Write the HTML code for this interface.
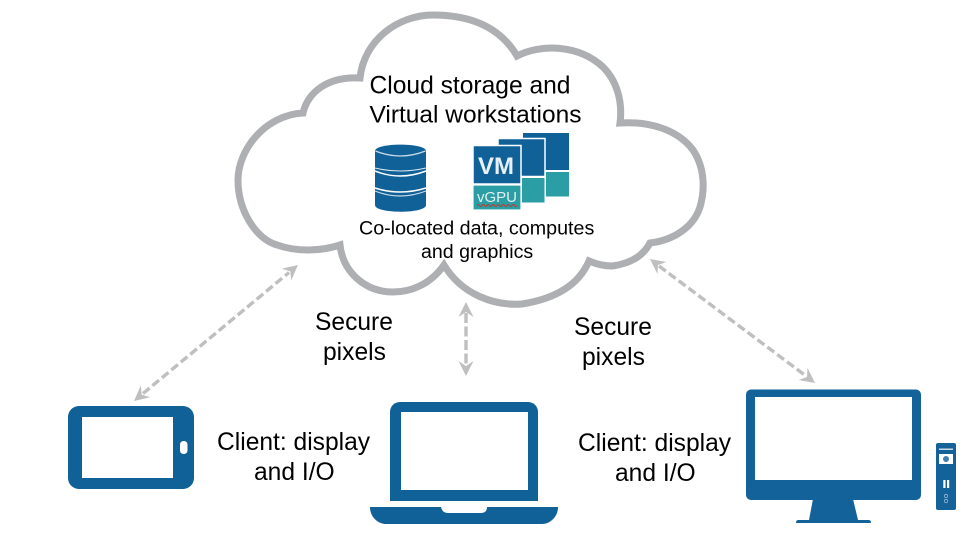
<!DOCTYPE html>
<html><head><meta charset="utf-8"><style>
html,body{margin:0;padding:0;background:#fff}
svg{display:block}
text{font-family:"Liberation Sans",sans-serif;fill:#000}
</style></head><body>
<svg width="975" height="536" viewBox="0 0 975 536" xmlns="http://www.w3.org/2000/svg">
<defs>
<path id="ah" d="M0,0 L-15,-7.5 L-10,0 L-15,7.5 Z" fill="#bfbfbf"/>
</defs>
<!-- cloud -->
<path d="M360,78 C364,40 398,15 433,15 C470,15 500,27 517,56 C540,44 578,44 603,67 C616,80 623,100 620,123 C650,121 678,130 693,150 C705,168 705,190 700,207 C694,226 675,240 650,243 C642,258 628,264 612,266 C603,266 596,264 589,261 C580,282 560,298 522,304 C495,306 462,295 444,265 C430,285 410,292 393,292 C365,292 343,272 340,245 C325,250 300,253 277,245 C255,238 238,210 238,180 C238,150 265,115 303,113 C308,92 328,76 360,78 Z" fill="#fff" stroke="#aeafb2" stroke-width="7" stroke-linejoin="miter"/>
<!-- cloud text -->
<text x="369.5" y="93.5" font-size="24.6">Cloud storage and</text>
<text x="369.5" y="122.5" font-size="24.5">Virtual workstations</text>
<text x="359" y="234.5" font-size="19.7">Co-located data, computes</text>
<text x="421" y="258" font-size="19.6">and graphics</text>
<!-- database -->
<g>
<path d="M375,151 C375,142.5 426,142.5 426,151 V205 C426,214 375,214 375,205Z" fill="#0f6198"/>
<g fill="none">
<path d="M375.5,151 Q400,161 425.5,151" stroke="#c9dbe7" stroke-width="1.3"/>
<path d="M375,168 Q400,174 426,168" stroke="#dce8f0" stroke-width="1.1"/>
<path d="M375,171 Q400,181 426,171" stroke="#fff" stroke-width="1.5"/>
<path d="M375,188 Q400,196 426,188" stroke="#fff" stroke-width="1.5"/>
<path d="M375,191 Q400,201 426,191" stroke="#c9dbe7" stroke-width="1.2"/>
</g>
</g>
<!-- VM stacks -->
<rect x="523" y="133" width="46" height="37" fill="#0f6198"/>
<rect x="546" y="172" width="23" height="24.5" fill="#2b9da4"/>
<rect x="498" y="138.5" width="47" height="38" fill="#0f6198" stroke="#fff" stroke-width="1.5"/>
<rect x="522" y="178" width="22.5" height="24.5" fill="#2b9da4"/>
<rect x="473" y="145.5" width="48" height="38.5" fill="#0f6198" stroke="#fff" stroke-width="1.5"/>
<rect x="473" y="185" width="48" height="25" fill="#2b9da4" stroke="#fff" stroke-width="1.2"/>
<text x="478" y="174" font-size="24" font-weight="bold" style="fill:#e8f0f5">VM</text>
<text x="477" y="202" font-size="15" style="fill:#e0f0f0">vGPU</text>
<path d="M477,205.5 q1.25,-2 2.5,0 t2.5,0 t2.5,0 t2.5,0 t2.5,0 t2.5,0 t2.5,0 t2.5,0 t2.5,0 t2.5,0 t2.5,0 t2.5,0 t2.5,0 t2.5,0 t2.5,0 t2.5,0" fill="none" stroke="#c0392b" stroke-width="1"/>
<!-- arrows -->
<g stroke="#bfbfbf" stroke-width="3.4" fill="none">
<path d="M143,393.5 L289,272.5" stroke-dasharray="8.5 3.8"/>
<path d="M659,266 L806,376" stroke-dasharray="8.5 3.8"/>
<path d="M466,313 V366" stroke-dasharray="10 3.5"/>
</g>
<use href="#ah" transform="translate(298,265) rotate(-39.7)"/>
<use href="#ah" transform="translate(134,401) rotate(140.3)"/>
<use href="#ah" transform="translate(650,259) rotate(216.9)"/>
<use href="#ah" transform="translate(815,383) rotate(36.9)"/>
<use href="#ah" transform="translate(466,302) rotate(-90)"/>
<use href="#ah" transform="translate(466,376) rotate(90)"/>
<!-- labels -->
<text x="315" y="330" font-size="24.6">Secure</text>
<text x="323" y="360" font-size="24.6">pixels</text>
<text x="574" y="335" font-size="24.6">Secure</text>
<text x="582" y="365" font-size="24.6">pixels</text>
<text x="217" y="450" font-size="24.6">Client: display</text>
<text x="254" y="480" font-size="24.6">and I/O</text>
<text x="578" y="451" font-size="24.6">Client: display</text>
<text x="615" y="481" font-size="24.6">and I/O</text>
<!-- tablet -->
<rect x="68" y="406" width="126" height="83" rx="11" fill="#0f6198"/>
<rect x="82" y="417" width="91" height="61" fill="#fff"/>
<rect x="180" y="441" width="7.5" height="13" rx="3.5" fill="#fff"/>
<!-- laptop -->
<path d="M390,412 a10,10 0 0 1 10,-10 H528 a10,10 0 0 1 10,10 V501 H390Z" fill="#0f6198"/>
<rect x="401" y="412" width="127" height="78" fill="#fff"/>
<path d="M370,507 H441 C442,511 444,513 448,513 H481 C485,513 487,511 487,507 H558 C558,517 550,524 542,524 H386 C378,524 370,517 370,507Z" fill="#0f6198"/>
<!-- monitor -->
<rect x="746" y="389.5" width="175" height="110.5" rx="5" fill="#14629a"/>
<rect x="755" y="397" width="157" height="83" fill="#fff"/>
<path d="M813,499 H853 L858,520 H869 Q871,520 871,523 H796 Q796,520 798,520 H809Z" fill="#14629a"/>
<!-- tower -->
<rect x="936" y="443" width="20" height="67" rx="2" fill="#14629a"/>
<rect x="939" y="448.5" width="14" height="1.5" fill="#c8d8e4"/>
<rect x="939" y="454" width="14" height="10" fill="#fff"/>
<circle cx="946" cy="459" r="3" fill="#3f81ae"/>
<rect x="943.3" y="480" width="2.2" height="8" fill="#fff"/>
<rect x="947" y="480" width="2.2" height="8" fill="#fff"/>
<circle cx="946" cy="496" r="1.7" fill="none" stroke="#9db9d0" stroke-width="0.8"/>
<circle cx="946" cy="501" r="1.7" fill="none" stroke="#9db9d0" stroke-width="0.8"/>
</svg>
</body></html>
